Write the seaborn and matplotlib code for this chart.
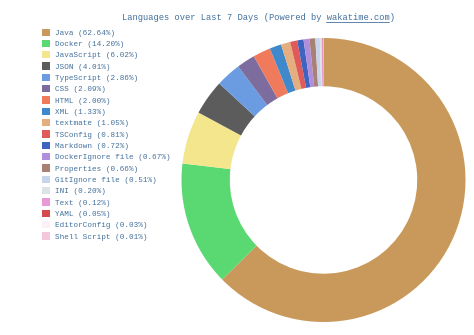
import matplotlib
matplotlib.use("Agg")
import matplotlib.pyplot as plt
import seaborn as sns
from matplotlib.patches import Patch

sns.set_theme(style="white")
plt.rcParams["font.family"] = ["Liberation Mono", "DejaVu Sans Mono"]

languages = ["Java", "Docker", "JavaScript", "JSON", "TypeScript", "CSS", "HTML",
             "XML", "textmate", "TSConfig", "Markdown", "DockerIgnore file",
             "Properties", "GitIgnore file", "INI", "Text", "YAML",
             "EditorConfig", "Shell Script"]
percents = [62.64, 14.20, 6.02, 4.01, 2.86, 2.09, 2.00, 1.33, 1.05, 0.81, 0.72,
            0.67, 0.66, 0.51, 0.20, 0.12, 0.05, 0.03, 0.01]
colors = ["#c8995a", "#5ad872", "#f4e68c", "#5c5c5c", "#6b9be0", "#7d6c9e",
          "#ef7b5c", "#4088cc", "#e5ae7e", "#e05a5a", "#3f64c0", "#b08ede",
          "#a98074", "#c6d4ec", "#dde2e4", "#e89ad8", "#d54a4a", "#fdf0f6",
          "#f4c8dc"]
title_text = "Languages over Last 7 Days (Powered by wakatime.com)"
link_text = "wakatime.com"
text_color = "#43709c"

W, H = 474, 335
fig = plt.figure(figsize=(W / 100, H / 100), dpi=100)

# donut axes: centre (323.5, 180) px from top-left, radius 142 px
cx, cy, r = 323.5, 180, 142
ax = fig.add_axes([(cx - r) / W, (H - cy - r) / H, 2 * r / W, 2 * r / H])
ax.pie(percents, colors=colors, startangle=90, counterclock=False,
       radius=1, wedgeprops=dict(width=0.34, linewidth=0))
ax.set_xlim(-1, 1)
ax.set_ylim(-1, 1)
ax.set_aspect("equal")
ax.axis("off")

# title with underlined link part
t = fig.text(258 / W, (H - 18) / H, title_text, ha="center", va="center",
             fontsize=6.3, color=text_color)
fig.canvas.draw()
bb = t.get_window_extent()
cw = bb.width / len(title_text)
start = title_text.index(link_text)
x0 = bb.x0 + cw * start
x1 = x0 + cw * len(link_text)
yl = bb.y0 + 0.5
fig.add_artist(plt.Line2D([x0 / W, x1 / W], [yl / H, yl / H], color=text_color,
                          linewidth=0.6, transform=fig.transFigure))

handles = [Patch(facecolor=c, edgecolor="none") for c in colors]
labels = [f"{n} ({p:.2f}%)" for n, p in zip(languages, percents)]
leg = fig.legend(handles, labels, loc="upper left",
                 bbox_to_anchor=(42 / W, (H - 28.5) / H),
                 frameon=False, fontsize=5.5, handlelength=1.1,
                 handleheight=1.1, handletextpad=0.55, labelspacing=0.40,
                 borderpad=0, borderaxespad=0)
for txt in leg.get_texts():
    txt.set_color(text_color)

fig.savefig("out.png", dpi=100, facecolor="white")
